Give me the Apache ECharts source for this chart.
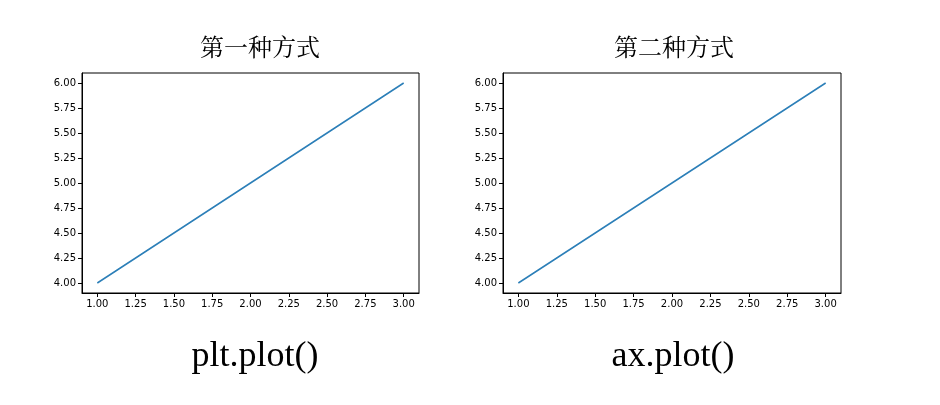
<!doctype html>
<html><head><meta charset="utf-8">
<script src="https://cdn.jsdelivr.net/npm/echarts@6/dist/echarts.min.js"></script>
<style>html,body{margin:0;background:#fff}#c{width:940px;height:405px}</style>
</head><body><div id="c"></div>
<script>
// 数据
const xs = [1, 2, 3];
const ys = [4, 5, 6];
const xTicks = [1.0, 1.25, 1.5, 1.75, 2.0, 2.25, 2.5, 2.75, 3.0];
const yTicks = [4.0, 4.25, 4.5, 4.75, 5.0, 5.25, 5.5, 5.75, 6.0];
const titles = ["第一种方式", "第二种方式"];
const captions = ["plt.plot()", "ax.plot()"];

const grids = [
  { left: 82, top: 73, width: 337, height: 220 },
  { left: 503, top: 73, width: 338, height: 220 }
];
const titleX = [255, 669];   // 标题中心
const captionX = [250, 668]; // 底部文字中心

const axisCommon = {
  axisLine: { show: true, onZero: false, lineStyle: { color: "#000", width: 1 } },
  axisTick: { show: true, inside: false, length: 4, lineStyle: { color: "#000" } },
  axisLabel: { color: "#000", fontSize: 10, fontFamily: "DejaVu Sans", formatter: (v) => v.toFixed(2) },
  splitLine: { show: false }
};

const option = {
  animation: false,
  grid: grids.map((g) => Object.assign({ show: true, borderColor: "#000", borderWidth: 1 }, g)),
  title: titles.map((t, i) => ({
    text: t, left: titleX[i], top: 30, textAlign: "center",
    textStyle: { fontSize: 24, fontWeight: "normal", color: "#000", fontFamily: "Noto Serif CJK SC, Noto Sans CJK SC, serif" }
  })).concat(captions.map((t, i) => ({
    text: t, left: captionX[i], top: 334, textAlign: "center",
    textStyle: { fontSize: 36, fontWeight: "normal", color: "#000", fontFamily: "Liberation Serif, DejaVu Serif, serif" }
  }))),
  xAxis: [0, 1].map((i) => Object.assign({}, axisCommon, {
    type: "value", gridIndex: i, min: 0.9, max: 3.1,
    axisTick: Object.assign({}, axisCommon.axisTick, { customValues: xTicks }),
    axisLabel: Object.assign({}, axisCommon.axisLabel, { customValues: xTicks, margin: 6 })
  })),
  yAxis: [0, 1].map((i) => Object.assign({}, axisCommon, {
    type: "value", gridIndex: i, min: 3.9, max: 6.1,
    axisTick: Object.assign({}, axisCommon.axisTick, { customValues: yTicks }),
    axisLabel: Object.assign({}, axisCommon.axisLabel, { customValues: yTicks, margin: 6 })
  })),
  series: [0, 1].map((i) => ({
    type: "line", xAxisIndex: i, yAxisIndex: i, showSymbol: false,
    lineStyle: { color: "#2c7fb8", width: 1.5 },
    data: xs.map((x, k) => [x, ys[k]])
  }))
};

echarts.init(document.getElementById("c"), null, { renderer: "canvas" }).setOption(option);
</script></body></html>
